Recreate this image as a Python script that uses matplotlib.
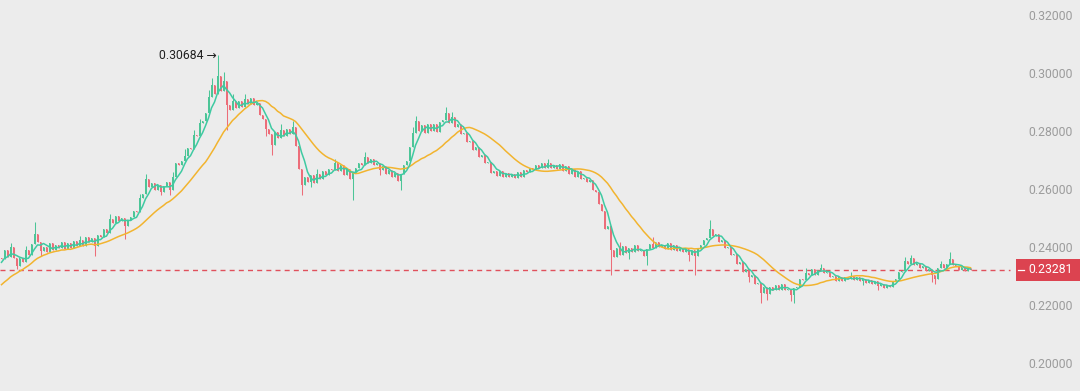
import numpy as np
import pandas as pd
import matplotlib.pyplot as plt
from matplotlib.patches import Rectangle
import matplotlib.transforms as mtransforms

# closes before the visible window (only feed the moving averages)
pre_closes = [0.2185, 0.2190, 0.2200, 0.2195, 0.2205, 0.2210, 0.2215, 0.2210, 0.2220, 0.2230,
              0.2225, 0.2235, 0.2240, 0.2250, 0.2245, 0.2255, 0.2265, 0.2275, 0.2290, 0.2300,
              0.2315, 0.2330, 0.2345, 0.2360, 0.2370]

closes = [
    0.2365, 0.2398, 0.2372, 0.2408, 0.2368, 0.2342, 0.2370, 0.2355, 0.2395, 0.2380,
    0.2418, 0.2452, 0.2425, 0.2392, 0.2408, 0.2388, 0.2420, 0.2398, 0.2415, 0.2402,
    0.2425, 0.2400, 0.2420, 0.2405, 0.2428, 0.2410, 0.2432, 0.2412, 0.2440, 0.2425,
    0.2438, 0.2410, 0.2448, 0.2440, 0.2470, 0.2455, 0.2502, 0.2490, 0.2515, 0.2495,
    0.2508, 0.2478, 0.2500, 0.2510, 0.2530, 0.2528, 0.2575, 0.2590, 0.2640, 0.2615,
    0.2628, 0.2605, 0.2622, 0.2598, 0.2618, 0.2630, 0.2605, 0.2648, 0.2695, 0.2688,
    0.2705, 0.2722, 0.2748, 0.2745, 0.2792, 0.2790, 0.2835, 0.2840, 0.2868, 0.2925,
    0.2965, 0.2935, 0.2995, 0.2945, 0.2980, 0.2895, 0.2880, 0.2912, 0.2885, 0.2910,
    0.2890, 0.2918, 0.2900, 0.2920, 0.2895, 0.2905, 0.2862, 0.2850, 0.2815, 0.2795,
    0.2760, 0.2805, 0.2782, 0.2812, 0.2788, 0.2815, 0.2795, 0.2822, 0.2755, 0.2675,
    0.2620, 0.2648, 0.2632, 0.2655, 0.2628, 0.2660, 0.2640, 0.2668, 0.2655, 0.2675,
    0.2672, 0.2695, 0.2670, 0.2690, 0.2655, 0.2675, 0.2642, 0.2665, 0.2680, 0.2695,
    0.2690, 0.2718, 0.2698, 0.2710, 0.2690, 0.2698, 0.2672, 0.2685, 0.2660, 0.2672,
    0.2650, 0.2662, 0.2635, 0.2658, 0.2690, 0.2705, 0.2752, 0.2800, 0.2840, 0.2808,
    0.2828, 0.2800, 0.2832, 0.2808, 0.2830, 0.2805, 0.2838, 0.2845, 0.2870, 0.2835,
    0.2855, 0.2822, 0.2830, 0.2798, 0.2800, 0.2768, 0.2772, 0.2742, 0.2750, 0.2718,
    0.2725, 0.2695, 0.2700, 0.2662, 0.2670, 0.2652, 0.2668, 0.2648, 0.2662, 0.2650,
    0.2660, 0.2645, 0.2665, 0.2648, 0.2672, 0.2665, 0.2680, 0.2672, 0.2690, 0.2678,
    0.2695, 0.2678, 0.2698, 0.2680, 0.2690, 0.2676, 0.2692, 0.2670, 0.2685, 0.2660,
    0.2675, 0.2650, 0.2668, 0.2640, 0.2645, 0.2630, 0.2638, 0.2605, 0.2598, 0.2555,
    0.2530, 0.2468, 0.2480, 0.2395, 0.2372, 0.2405, 0.2378, 0.2410, 0.2385, 0.2402,
    0.2390, 0.2415, 0.2392, 0.2398, 0.2375, 0.2400, 0.2418, 0.2405, 0.2425, 0.2408,
    0.2415, 0.2400, 0.2420, 0.2398, 0.2415, 0.2392, 0.2405, 0.2388, 0.2400, 0.2380,
    0.2398, 0.2375, 0.2402, 0.2415, 0.2430, 0.2438, 0.2468, 0.2445, 0.2452, 0.2425,
    0.2430, 0.2402, 0.2408, 0.2378, 0.2382, 0.2350, 0.2355, 0.2322, 0.2330, 0.2302,
    0.2310, 0.2278, 0.2282, 0.2248, 0.2270, 0.2245, 0.2268, 0.2258, 0.2275, 0.2260,
    0.2280, 0.2258, 0.2262, 0.2242, 0.2265, 0.2270, 0.2295, 0.2292, 0.2318, 0.2312,
    0.2330, 0.2312, 0.2328, 0.2335, 0.2318, 0.2322, 0.2305, 0.2308, 0.2290, 0.2305,
    0.2288, 0.2302, 0.2295, 0.2308, 0.2292, 0.2302, 0.2290, 0.2298, 0.2282, 0.2292,
    0.2278, 0.2288, 0.2272, 0.2278, 0.2265, 0.2275, 0.2268, 0.2290, 0.2298, 0.2322,
    0.2325, 0.2358, 0.2348, 0.2368, 0.2345, 0.2352, 0.2335, 0.2342, 0.2325, 0.2330,
    0.2310, 0.2298, 0.2335, 0.2348, 0.2335, 0.2350, 0.2365, 0.2345, 0.2340, 0.2328,
    0.2338, 0.2325, 0.2335, 0.23281,
]

# notable wicks: candle index -> extreme price
wick_highs = {3: 0.2420, 8: 0.2412, 11: 0.2493, 26: 0.2445, 36: 0.2520, 46: 0.2590,
              48: 0.2660, 57: 0.2665, 61: 0.2745, 64: 0.2810, 66: 0.2850, 69: 0.2950,
              70: 0.2990, 72: 0.30684, 74: 0.3010, 77: 0.2935, 81: 0.2935, 93: 0.2830,
              97: 0.2840, 105: 0.2675, 111: 0.2712, 121: 0.2735, 137: 0.2820, 138: 0.2860,
              148: 0.2890, 150: 0.2872, 182: 0.2712, 206: 0.2425, 217: 0.2440, 236: 0.2500,
              268: 0.2335, 273: 0.2348, 283: 0.2320, 301: 0.2372, 303: 0.2380, 313: 0.2359,
              316: 0.2390}
wick_lows = {5: 0.2330, 13: 0.2375, 31: 0.2375, 41: 0.2435, 53: 0.2585, 56: 0.2586,
             75: 0.2810, 88: 0.2790, 90: 0.2724, 100: 0.2586, 103: 0.2615, 117: 0.2569,
             126: 0.2655, 133: 0.2603, 203: 0.2310, 209: 0.2365, 215: 0.2345, 229: 0.2360,
             231: 0.2310, 249: 0.2285, 253: 0.2215, 255: 0.2225, 263: 0.2220, 264: 0.2215,
             287: 0.2275, 292: 0.2258, 310: 0.2285, 311: 0.2280}

yticks = [0.20, 0.22, 0.24, 0.26, 0.28, 0.30, 0.32]
last_price = 0.23281
peak_price = 0.30684

bg = "#ececec"
up_col = "#4cc597"
down_col = "#ec6d79"
ma_fast_col = "#3fcaa2"
ma_slow_col = "#f2b42f"

all_closes = pd.Series(pre_closes + closes)
ma5 = all_closes.rolling(5, min_periods=1).mean().values[len(pre_closes):]
ma20 = all_closes.rolling(20, min_periods=1).mean().values[len(pre_closes):]

n = len(closes)
idx = np.arange(n)
opens = np.array([pre_closes[-1]] + closes[:-1])
cl = np.array(closes)
highs = np.maximum(opens, cl)
lows = np.minimum(opens, cl)
for k, v in wick_highs.items():
    highs[k] = max(highs[k], v)
for k, v in wick_lows.items():
    lows[k] = min(lows[k], v)

fig = plt.figure(figsize=(10.8, 3.91), dpi=100, facecolor=bg)
ax = fig.add_axes([0, 0, 1, 1], facecolor=bg)
ax.set_xlim(-0.5, 359.5)
ax.set_ylim(0.32 - 374 / 2900, 0.32 + 17 / 2900)
ax.axis("off")

up = cl >= opens
colors = np.where(up, up_col, down_col)
ax.vlines(idx, lows, highs, colors=colors, linewidth=0.75, zorder=2)
body_h = np.maximum(np.abs(cl - opens), 0.00012)
ax.bar(idx, body_h, bottom=np.minimum(opens, cl), width=0.62, color=colors,
       linewidth=0, zorder=3)

ax.plot(idx, ma20, color=ma_slow_col, linewidth=1.1, zorder=4)
ax.plot(idx, ma5, color=ma_fast_col, linewidth=1.1, zorder=5)

# last price dashed line
ax.axhline(last_price, xmin=0, xmax=1010 / 1080, color="#e0505c", linewidth=1.0,
           dashes=(3.6, 3.0), zorder=1)

font = ["Roboto", "DejaVu Sans"]
trans = mtransforms.blended_transform_factory(ax.transAxes, ax.transData)
for t in yticks:
    ax.text(1073 / 1080, t, f"{t:.5f}", transform=trans, ha="right", va="center",
            fontsize=8.8, color="#9c9c9c", family=font)

# last price tag
box_h = 22 / 2900
ax.add_patch(Rectangle((1016 / 1080, last_price - box_h / 2), 64 / 1080, box_h,
                       transform=trans, facecolor="#dc4350", edgecolor="none",
                       zorder=6, clip_on=False))
ax.text(1073 / 1080, last_price, f"{last_price:.5f}", transform=trans, ha="right",
        va="center", fontsize=8.8, color="white", family=font, zorder=7)
ax.plot([1018 / 1080, 1024 / 1080], [last_price, last_price], transform=trans,
        color="white", linewidth=0.9, zorder=7)

# peak annotation
peak_i = int(np.argmax(highs))
ax.text(peak_i - 0.3, peak_price, f"{peak_price:.5f} \u2192", ha="right", va="center",
        fontsize=8.8, color="#222222", family=font, zorder=7)

fig.savefig("out.png", dpi=100, facecolor=bg)
